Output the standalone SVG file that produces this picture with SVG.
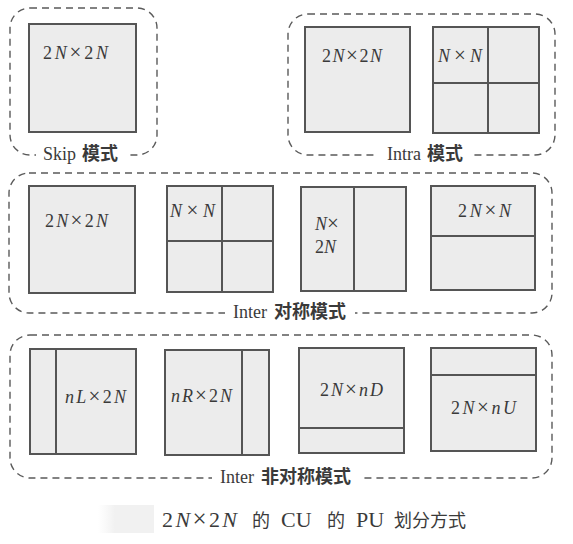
<svg xmlns="http://www.w3.org/2000/svg" width="573" height="544" viewBox="0 0 573 544">
<defs>
<style>
.grp{fill:none;stroke:#5a5a5a;stroke-width:1.4;stroke-dasharray:7 5}
.cu{fill:#ececec;stroke:#555;stroke-width:2}
.div{stroke:#555;stroke-width:2;fill:none}
.gap{fill:#fff;stroke:none}
.t{font-family:"Liberation Serif","Noto Sans CJK SC",serif;font-size:18px;fill:#3a3a3a}
.i{font-style:italic}
.x{font-size:21px}
.lab{font-family:"Liberation Serif","Noto Sans CJK SC",serif;font-size:18px;fill:#3a3a3a}
.cjk{font-family:"Noto Sans CJK SC",sans-serif;font-weight:bold;font-size:18px}
.cap{font-family:"Liberation Serif","Noto Sans CJK SC",serif;font-size:22px;fill:#3a3a3a}
.capcjk{font-family:"Noto Sans CJK SC",sans-serif;font-size:18px}
</style>
<linearGradient id="fade" x1="0" x2="1" y1="0" y2="0">
<stop offset="0" stop-color="#f3f3f3" stop-opacity="0"/>
<stop offset="0.3" stop-color="#f1f1f1"/>
<stop offset="1" stop-color="#f1f1f1"/>
</linearGradient>
</defs>
<rect width="573" height="544" fill="#fff"/>

<g id="skip-group">
<rect class="grp" x="10" y="8" width="147" height="147" rx="20"/>
<rect class="gap" x="36" y="145" width="92" height="20"/>
<text class="lab" x="43" y="160">Skip<tspan class="cjk" x="82">模式</tspan></text>
<g id="skip-2Nx2N">
<rect class="cu" x="29" y="24" width="107" height="108"/>
<text class="t" x="43" y="59" textLength="65">2<tspan class="i">N</tspan><tspan class="x">×</tspan>2<tspan class="i">N</tspan></text>
</g>
</g>

<g id="intra-group">
<rect class="grp" x="288" y="14" width="267" height="141" rx="20"/>
<rect class="gap" x="378" y="145" width="92" height="20"/>
<text class="lab" x="387" y="160">Intra<tspan class="cjk" x="427">模式</tspan></text>
<g id="intra-2Nx2N">
<rect class="cu" x="305" y="27" width="105" height="105"/>
<text class="t" x="322" y="62" textLength="60">2<tspan class="i">N</tspan><tspan class="x">×</tspan>2<tspan class="i">N</tspan></text>
</g>
<g id="intra-NxN">
<rect class="cu" x="433" y="27" width="106" height="106"/>
<path class="div" d="M488 27V133M433 83H539"/>
<text class="t" x="438" y="62" textLength="44"><tspan class="i">N</tspan><tspan class="x">×</tspan><tspan class="i">N</tspan></text>
</g>
</g>

<g id="inter-sym-group">
<rect class="grp" x="9" y="173" width="543" height="140" rx="20"/>
<rect class="gap" x="225" y="303" width="130" height="20"/>
<text class="lab" x="233" y="318">Inter<tspan class="cjk" x="274">对称模式</tspan></text>
<g id="inter-2Nx2N">
<rect class="cu" x="29" y="186" width="106" height="107"/>
<text class="t" x="45" y="227" textLength="63">2<tspan class="i">N</tspan><tspan class="x">×</tspan>2<tspan class="i">N</tspan></text>
</g>
<g id="inter-NxN">
<rect class="cu" x="167" y="186" width="106" height="106"/>
<path class="div" d="M222 186V292M167 241H273"/>
<text class="t" x="170" y="217" textLength="45"><tspan class="i">N</tspan><tspan class="x">×</tspan><tspan class="i">N</tspan></text>
</g>
<g id="inter-Nx2N">
<rect class="cu" x="301" y="187" width="105" height="104"/>
<path class="div" d="M354 187V291"/>
<text class="t" x="315" y="230"><tspan class="i">N</tspan><tspan class="x">×</tspan></text>
<text class="t" x="315" y="253">2<tspan class="i">N</tspan></text>
</g>
<g id="inter-2NxN">
<rect class="cu" x="431" y="186" width="104" height="104"/>
<path class="div" d="M431 236H535"/>
<text class="t" x="458" y="217" textLength="53">2<tspan class="i">N</tspan><tspan class="x">×</tspan><tspan class="i">N</tspan></text>
</g>
</g>

<g id="inter-asym-group">
<rect class="grp" x="10" y="335" width="542" height="143" rx="20"/>
<rect class="gap" x="212" y="468" width="150" height="20"/>
<text class="lab" x="220" y="483">Inter<tspan class="cjk" x="261">非对称模式</tspan></text>
<g id="inter-nLx2N">
<rect class="cu" x="30" y="349" width="106" height="105"/>
<path class="div" d="M56 349V454"/>
<text class="t" x="65" y="403" textLength="61"><tspan class="i">nL</tspan><tspan class="x">×</tspan>2<tspan class="i">N</tspan></text>
</g>
<g id="inter-nRx2N">
<rect class="cu" x="165" y="350" width="104" height="105"/>
<path class="div" d="M242 350V455"/>
<text class="t" x="171" y="402" textLength="61"><tspan class="i">nR</tspan><tspan class="x">×</tspan>2<tspan class="i">N</tspan></text>
</g>
<g id="inter-2NxnD">
<rect class="cu" x="299" y="348" width="105" height="105"/>
<path class="div" d="M299 428H404"/>
<text class="t" x="320" y="396" textLength="63">2<tspan class="i">N</tspan><tspan class="x">×</tspan><tspan class="i">nD</tspan></text>
</g>
<g id="inter-2NxnU">
<rect class="cu" x="431" y="348" width="105" height="103"/>
<path class="div" d="M431 375H536"/>
<text class="t" x="451" y="414" textLength="65">2<tspan class="i">N</tspan><tspan class="x">×</tspan><tspan class="i">nU</tspan></text>
</g>
</g>

<g id="caption">
<rect x="98" y="505" width="56" height="28" fill="url(#fade)"/>
<text class="cap" x="162" y="527" textLength="75">2<tspan class="i">N</tspan><tspan font-size="25">×</tspan>2<tspan class="i">N</tspan></text>
<text class="cap" x="252" y="527"><tspan class="capcjk">的</tspan><tspan x="281">CU</tspan><tspan class="capcjk" x="327">的</tspan><tspan x="356">PU</tspan><tspan class="capcjk" x="394">划分方式</tspan></text>
</g>
</svg>
